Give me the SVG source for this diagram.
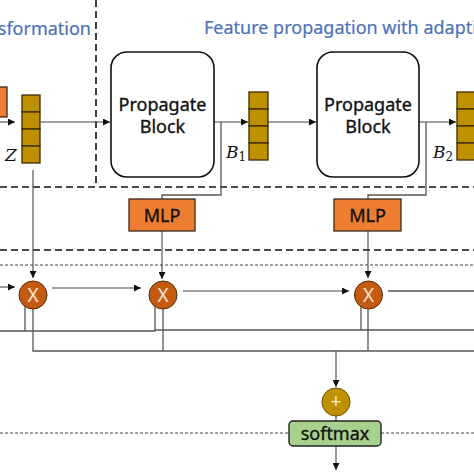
<svg xmlns="http://www.w3.org/2000/svg" width="474" height="474" viewBox="0 0 474 474">
<defs>
<marker id="ah" viewBox="0 0 10 10" refX="10" refY="5" markerWidth="7" markerHeight="7" markerUnits="userSpaceOnUse" orient="auto">
<path d="M0,0 L10,5 L0,10 z" fill="#111"/>
</marker>
</defs>
<style>
.title{font-family:"Noto Sans","Open Sans",sans-serif;font-size:18px;fill:#4a72b8;stroke:#4a72b8;stroke-width:0.2;}
.blk{fill:#fff;stroke:#111;stroke-width:1.6;}
.blkt{font-family:"Noto Sans","Open Sans",sans-serif;font-size:18px;fill:#111;stroke:#111;stroke-width:0.35;text-anchor:middle;}
.mlp{fill:#ed7d31;stroke:#3a2a1a;stroke-width:1.3;}
.mlpt{font-family:"Noto Sans","Open Sans",sans-serif;font-size:18px;fill:#111;stroke:#111;stroke-width:0.35;text-anchor:middle;}
.cell{fill:#bf9000;stroke:#3d2a00;stroke-width:1.3;}
.mul{fill:#c55a11;stroke:#5a2a05;stroke-width:1;}
.mult{font-family:"Noto Sans","Open Sans",sans-serif;font-size:19px;fill:#fbe5d6;text-anchor:middle;}
.plus{fill:#bf9000;stroke:#6b5000;stroke-width:1;}
.math{font-family:"DejaVu Serif","Liberation Serif",serif;font-style:italic;font-size:17px;fill:#111;}
.sub{font-size:12px;font-style:normal;}
.ln{fill:none;stroke:#555;stroke-width:1.3;}
.ar{fill:none;stroke:#444;stroke-width:1.1;marker-end:url(#ah);}
.d1{fill:none;stroke:#111;stroke-width:1.6;stroke-dasharray:7,4;}
.d2{fill:none;stroke:#444;stroke-width:1;stroke-dasharray:3,2;}
</style>
<g id="separators">
<path class="d1" d="M96,0 V187"/>
<path class="d1" d="M0,187 H474"/>
<path class="d1" d="M0,250 H474"/>
<path class="d2" d="M0,265 H474"/>
<path class="d2" d="M0,433 H289 M381,433 H474"/>
</g>
<g id="titles">
<text class="title" x="91" y="35" text-anchor="end">sformation</text>
<text class="title" x="204" y="34">Feature propagation with adaptiv</text>
</g>
<g id="connectors">
<path class="ar" d="M0,122 H15"/>
<path class="ar" d="M41,122 H110"/>
<path class="ar" d="M214,122 H248"/>
<path class="ar" d="M268,122 H316"/>
<path class="ar" d="M419,122 H456"/>
<path class="ln" d="M221,122 V195 H162 V199"/>
<path class="ln" d="M426,122 V195 H368 V199"/>
<path class="ar" d="M33,170 V278"/>
<path class="ar" d="M162,231 V279"/>
<path class="ar" d="M368,231 V278"/>
<path class="ar" d="M0,287 H15"/>
<path class="ar" d="M52,288 H141"/>
<path class="ar" d="M183,291 H349"/>
<path class="ln" d="M388,291 H474"/>
<path class="ln" d="M25,306 V331 H0 M25,331 H155 V306 M155,330 H361 V306 M361,330 H474"/>
<path class="ln" d="M33,308 V351 H474 M163,308 V351 M368,308 V351"/>
<path class="ar" d="M336,351 V387"/>
<path class="ln" d="M336,416 V421"/>
<path class="ar" d="M336,446 V470"/>
</g>
<g id="input-box"><rect class="mlp" x="-4" y="87" width="11" height="30"/></g>
<g id="vector-Z">
<rect class="cell" x="22" y="95" width="18" height="17"/>
<rect class="cell" x="22" y="112" width="18" height="17"/>
<rect class="cell" x="22" y="129" width="18" height="17"/>
<rect class="cell" x="22" y="146" width="18" height="17"/>
<text class="math" x="5" y="161">Z</text>
</g>
<g id="block-1">
<rect class="blk" x="111" y="52" width="103" height="125" rx="16"/>
<text class="blkt" x="162.5" y="111">Propagate</text>
<text class="blkt" x="162.5" y="133">Block</text>
</g>
<g id="vector-B1">
<rect class="cell" x="249" y="92" width="19" height="17"/>
<rect class="cell" x="249" y="109" width="19" height="17"/>
<rect class="cell" x="249" y="126" width="19" height="17"/>
<rect class="cell" x="249" y="143" width="19" height="17"/>
<text class="math" x="226" y="158">B<tspan class="sub" dy="3">1</tspan></text>
</g>
<g id="block-2">
<rect class="blk" x="317" y="52" width="102" height="125" rx="16"/>
<text class="blkt" x="368" y="111">Propagate</text>
<text class="blkt" x="368" y="133">Block</text>
</g>
<g id="vector-B2">
<rect class="cell" x="457" y="92" width="20" height="17"/>
<rect class="cell" x="457" y="109" width="20" height="17"/>
<rect class="cell" x="457" y="126" width="20" height="17"/>
<rect class="cell" x="457" y="143" width="20" height="17"/>
<text class="math" x="433" y="158">B<tspan class="sub" dy="3">2</tspan></text>
</g>
<g id="mlp-1">
<rect class="mlp" x="129" y="199" width="66" height="32"/>
<text class="mlpt" x="162" y="222">MLP</text>
</g>
<g id="mlp-2">
<rect class="mlp" x="334" y="199" width="67" height="32"/>
<text class="mlpt" x="367.5" y="222">MLP</text>
</g>
<g id="mul-1">
<circle class="mul" cx="33" cy="295" r="14"/>
<text class="mult" x="33" y="302">X</text>
</g>
<g id="mul-2">
<circle class="mul" cx="163" cy="295" r="14"/>
<text class="mult" x="163" y="302">X</text>
</g>
<g id="mul-3">
<circle class="mul" cx="368.5" cy="295" r="14"/>
<text class="mult" x="368.5" y="302">X</text>
</g>
<g id="sum">
<circle class="plus" cx="336" cy="402" r="14"/>
<text class="mult" x="336" y="408" style="fill:#fff2cc">+</text>
</g>
<g id="softmax">
<rect x="289" y="421" width="92" height="25" rx="4" fill="#a9d18e" stroke="#222" stroke-width="1.4"/>
<text x="335" y="440" font-family="Noto Sans, Open Sans, sans-serif" font-size="18" fill="#111" stroke="#111" stroke-width="0.35" text-anchor="middle">softmax</text>
</g>
</svg>
